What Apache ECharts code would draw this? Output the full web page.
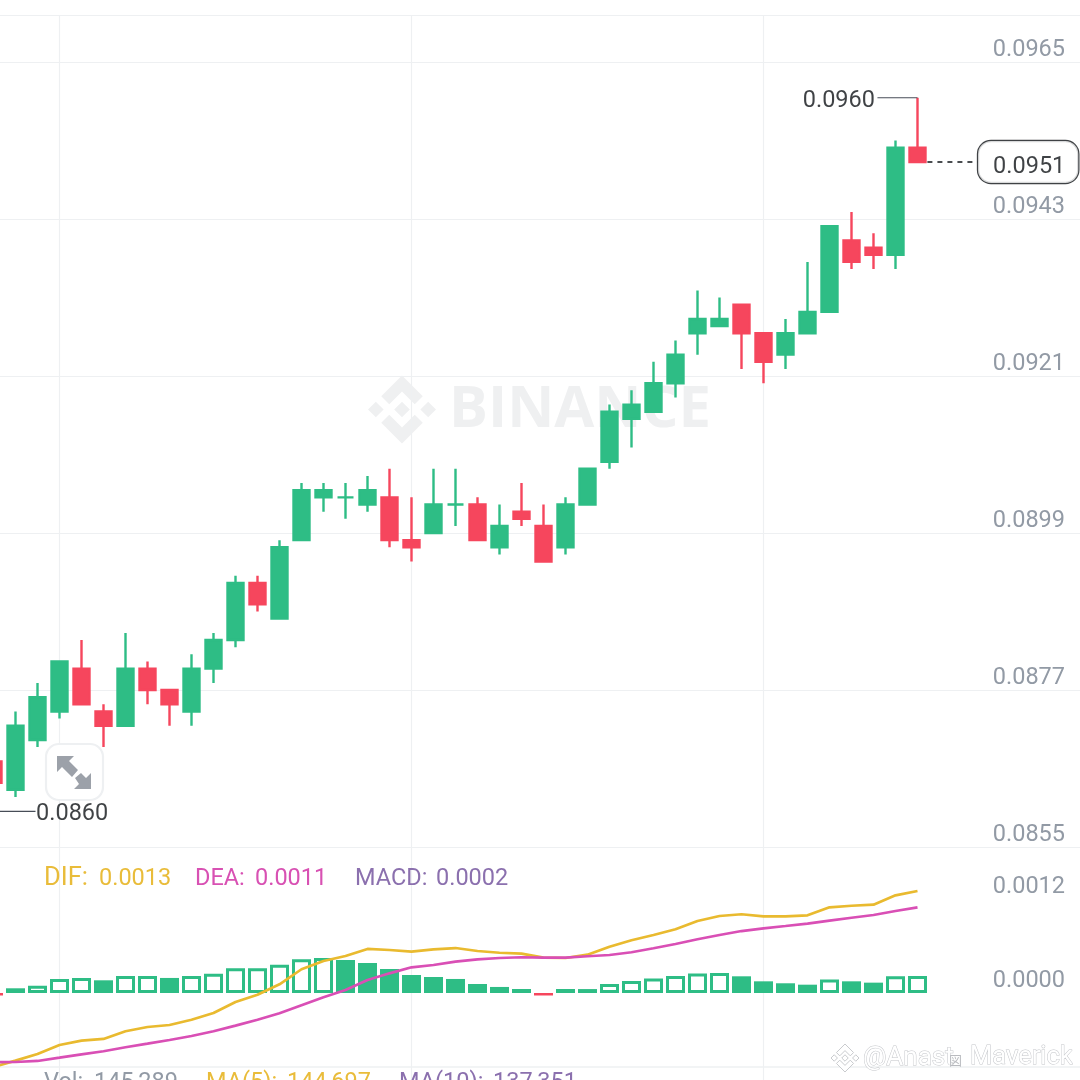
<!DOCTYPE html>
<html>
<head>
<meta charset="utf-8">
<style>html,body{margin:0;padding:0;background:#fff}#c{width:1080px;height:1080px}</style>
<script src="https://cdn.jsdelivr.net/npm/echarts@6/dist/echarts.min.js"></script>
</head>
<body>
<div id="c"></div>
<script>
const opens  = [.0867,.0863,.0870,.0874,.0880,.0874,.0872,.0880,.0877,.0874,.0880,.0884,.0892,.0887,.0898,.0904,.0904,.0903,.0904,.0898,.0899,.0903,.0903,.0897,.0902,.0900,.0897,.0903,.0909,.0915,.0916,.0920,.0927,.0928,.0931,.0927,.0924,.0927,.0930,.0940,.0939,.0938,.0953];
const closes = [.0864,.0872,.0876,.0881,.0875,.0872,.0880,.0877,.0875,.0880,.0884,.0892,.0889,.0897,.0905,.0905,.0904,.0905,.0898,.0897,.0903,.0903,.0898,.0900,.0901,.0895,.0903,.0908,.0916,.0917,.0920,.0924,.0929,.0929,.0927,.0923,.0927,.0930,.0942,.0937,.0938,.0953,.0951];
const lows   = [.0860,.0862,.0869,.0873,.0875,.0869,.0872,.0875,.0872,.0872,.0878,.0883,.0888,.0887,.0898,.0902,.0901,.0902,.0897,.0895,.0899,.0900,.0898,.0896,.0900,.0895,.0896,.0903,.0908,.0911,.0916,.0918,.0924,.0928,.0922,.0920,.0922,.0927,.0930,.0936,.0936,.0936,.0951];
const highs  = [.0868,.0874,.0878,.0881,.0884,.0875,.0885,.0881,.0877,.0882,.0885,.0893,.0893,.0898,.0906,.0906,.0906,.0907,.0908,.0904,.0908,.0908,.0904,.0903,.0906,.0903,.0904,.0908,.0917,.0919,.0923,.0926,.0933,.0932,.0931,.0927,.0929,.0937,.0942,.0944,.0941,.0954,.0960];
const macdHist = [-.000032,.00006,.000093,.000179,.000192,.000162,.000217,.000218,.000192,.000217,.000246,.000315,.000316,.000361,.00043,.000447,.000421,.000383,.000306,.00023,.000204,.000179,.000115,.000077,.000051,-.000032,.000051,.00005,.000115,.000153,.000185,.000217,.000249,.000255,.000213,.000149,.000124,.000106,.000172,.000149,.000132,.000213,.000217];
const difLine = [-.000945,-.000864,-.000779,-.000664,-.000609,-.000587,-.000489,-.000434,-.000409,-.000341,-.000255,-.000115,-.000022,.000111,.000303,.000409,.000472,.000562,.000549,.000527,.000558,.000574,.000536,.000514,.000502,.000451,.000447,.000489,.000591,.000673,.00074,.000813,.000919,.000983,.001005,.000979,.000979,.000992,.001094,.001114,.001127,.001247,.001302];
const deaLine = [-.000885,-.000881,-.000868,-.000826,-.000783,-.000744,-.000693,-.000647,-.0006,-.000549,-.000489,-.000417,-.000341,-.000259,-.000157,-.000055,.000038,.000166,.000251,.000328,.000357,.0004,.00043,.000447,.000456,.000451,.000451,.000469,.000485,.00052,.000571,.000626,.000686,.00074,.000791,.000826,.000855,.000885,.000923,.000961,.000996,.001047,.001094];
const gridCandles = [3,19,35];
const macdTicks = [0,0.0012];
const highPrice = 0.0960, lowPrice = 0.0860, lastPrice = 0.0951;
const legendMacd = [['DIF:',44,'#E9BC3A',25.5],['0.0013',99,'#E9BC3A'],['DEA:',195,'#D851B3'],['0.0011',255,'#D851B3'],['MACD:',355,'#8B70AE'],['0.0002',436,'#8B70AE']];
const legendVol = [['Vol:',44,'#929AA5'],['145,289',94,'#929AA5'],['MA(5):',206,'#E9BC3A'],['144,697',287,'#E9BC3A'],['MA(10):',399,'#8B70AE'],['137,351',493,'#8B70AE']];

const GREEN='#2EBD85', RED='#F6465D', GRID='#EEF0F2', GREY='#929AA5', INK='#0F1317';
const FONT='Roboto';
const BANDS=50;
const categories=Array.from({length:BANDS},(_,i)=>String(i));

const candleData=opens.map((o,i)=>{
  const item={value:[o,closes[i],lows[i],highs[i]]};
  if(o===closes[i]) item.itemStyle={color:GREEN,color0:GREEN,borderColor:GREEN,borderColor0:GREEN,borderColorDoji:GREEN};
  return item;
});
const histData=macdHist.map((v,i)=>{
  const prev=i?macdHist[i-1]:0;
  if(v<0) return {value:v,itemStyle:{color:RED}};
  if(prev>0&&v>prev) return {value:v,itemStyle:{color:'#fff',borderColor:GREEN,borderWidth:3}};
  return {value:v,itemStyle:{color:GREEN}};
});
const yLabel={inside:true,margin:17.5,color:GREY,fontFamily:FONT,fontSize:23.5,verticalAlign:'bottom',padding:[0,0,0,0],lineHeight:24};
const priceMax=0.09716;

function poly(points,cx,cy,r,fill,z){
  return {type:'polygon',z:z,silent:true,shape:{points:points.map(p=>[cx+p[0]*r,cy+p[1]*r])},style:{fill:fill}};
}
const LOGO=[
 [[0,-1],[.61,-.39],[.375,-.155],[0,-.53],[-.375,-.155],[-.61,-.39]],
 [[0,1],[.61,.39],[.375,.155],[0,.53],[-.375,.155],[-.61,.39]],
 [[-.23,0],[0,-.23],[.23,0],[0,.23]],
 [[-1,0],[-.77,-.23],[-.54,0],[-.77,.23]],
 [[1,0],[.77,-.23],[.54,0],[.77,.23]]
];
const graphics=[];
LOGO.forEach(p=>graphics.push(poly(p,402,409.5,34,'#EFF0F1',0)));
graphics.push({type:'text',z:0,silent:true,style:{text:'BINANCE',x:449,y:410,font:'bold 58px "Open Sans"',fill:'#EFF0F1',verticalAlign:'middle'}});
legendMacd.forEach(t=>graphics.push({type:'text',z:50,silent:true,style:{text:t[0],x:t[1],y:879,font:(t[3]||23.5)+'px '+FONT,fill:t[2],verticalAlign:'middle'}}));
legendVol.forEach(t=>graphics.push({type:'text',z:50,silent:true,style:{text:t[0],x:t[1],y:1083,font:'23.5px '+FONT,fill:t[2],verticalAlign:'middle'}}));
graphics.push({type:'line',z:1,silent:true,shape:{x1:0,y1:1067,x2:1080,y2:1067},style:{stroke:GRID,lineWidth:1.5}});
// expand button
graphics.push({type:'rect',z:60,silent:true,shape:{x:46,y:744,width:57,height:56,r:13},style:{fill:'#fff',stroke:'#EEF0F2',lineWidth:2.2}});
const ARROW='#9CA1A9';
graphics.push({type:'polygon',z:61,silent:true,shape:{points:[[57,756],[74,756],[69,761],[78,770],[72,777],[62,767],[57,772]]},style:{fill:ARROW}});
graphics.push({type:'polygon',z:61,silent:true,shape:{points:[[91,789],[74,789],[79,784],[75,778],[81,773],[86,778],[91,773]]},style:{fill:ARROW}});
// author watermark
LOGO.forEach(p=>graphics.push({type:'polygon',z:70,silent:true,shape:{points:p.map(q=>[845+q[0]*14,1058+q[1]*14])},style:{fill:'#fff',stroke:'#C9CBCE',lineWidth:1}}));
graphics.push({type:'text',z:70,silent:true,style:{text:'@Anast',x:863,y:1058,font:'26px '+FONT,fill:'#fff',stroke:'#C4C6CA',lineWidth:1,verticalAlign:'middle'}});
graphics.push({type:'text',z:70,silent:true,style:{text:'図',x:949,y:1060,font:'13px "Noto Sans CJK JP"',fill:'#B9BBBF',verticalAlign:'middle'}});
graphics.push({type:'text',z:70,silent:true,style:{text:'Maverick',x:970,y:1058,font:'25.5px '+FONT,fill:'#fff',stroke:'#C4C6CA',lineWidth:1,verticalAlign:'middle'}});

const calloutLine={color:'#474D57',width:1.2};
const lastIdx=opens.length-1;
const textStyle={color:INK,fontFamily:FONT,fontSize:23.5};
const option={
  animation:false,
  backgroundColor:'#fff',
  graphic:graphics,
  grid:[
    {left:-17.5,width:1100,top:15,height:832,outerBoundsMode:'none'},
    {left:-17.5,width:1100,top:847,height:233,outerBoundsMode:'none'}
  ],
  xAxis:[
    {type:'category',gridIndex:0,data:categories,boundaryGap:true,axisLine:{show:false},axisTick:{show:false},axisLabel:{show:false},splitLine:{show:false}},
    {type:'value',gridIndex:0,min:-0.5,max:BANDS-0.5,show:false},
    {type:'category',gridIndex:1,data:categories,boundaryGap:true,axisLine:{show:false},axisTick:{show:false},axisLabel:{show:false},splitLine:{show:false}}
  ],
  yAxis:[
    {type:'value',gridIndex:0,position:'right',min:0.0855,max:priceMax,interval:0.0022,scale:true,
     axisLine:{show:false},axisTick:{show:false},
     splitLine:{show:true,lineStyle:{color:GRID,width:1.2}},
     axisLabel:Object.assign({},yLabel,{formatter:v=>v>0.097?'':v.toFixed(4),hideOverlap:false})},
    {type:'value',gridIndex:1,position:'right',min:-0.001111,max:0.001864,
     axisLine:{show:false},axisTick:{show:false},splitLine:{show:false},
     axisLabel:Object.assign({},yLabel,{customValues:macdTicks,formatter:v=>v.toFixed(4)})}
  ],
  series:[
    {type:'line',xAxisIndex:0,yAxisIndex:0,data:[],z:1,silent:true,
     markLine:{z:1,silent:true,symbol:'none',label:{show:false},lineStyle:{color:GRID,width:1.2,type:'solid'},data:gridCandles.map(i=>({xAxis:i}))}},
    {type:'line',xAxisIndex:2,yAxisIndex:1,data:[],z:1,silent:true,
     markLine:{z:1,silent:true,symbol:'none',label:{show:false},lineStyle:{color:GRID,width:1.2,type:'solid'},data:gridCandles.map(i=>({xAxis:i}))}},
    {type:'candlestick',xAxisIndex:0,yAxisIndex:0,z:3,barWidth:16.8,data:candleData,
     itemStyle:{color:GREEN,color0:RED,borderColor:GREEN,borderColor0:RED,borderColorDoji:GREEN,borderWidth:2.4}},
    {type:'line',xAxisIndex:1,yAxisIndex:0,z:4,symbol:'none',silent:true,lineStyle:calloutLine,
     data:[[lastIdx-1.82,highPrice],[lastIdx,highPrice]]},
    {type:'line',xAxisIndex:1,yAxisIndex:0,z:4,symbol:'none',silent:true,lineStyle:calloutLine,
     data:[[0,lowPrice],[1.91,lowPrice]]},
    {type:'line',xAxisIndex:1,yAxisIndex:0,z:4,symbol:'none',silent:true,lineStyle:{color:INK,width:1.4,type:[5,5]},
     data:[[lastIdx+0.45,lastPrice],[lastIdx+2.73,lastPrice]]},
    {type:'scatter',xAxisIndex:1,yAxisIndex:0,z:5,silent:true,symbolSize:1,itemStyle:{color:'transparent'},
     data:[
       {value:[lastIdx-1.82,highPrice],label:Object.assign({show:true,position:'left',distance:2,offset:[0,3],formatter:highPrice.toFixed(4)},textStyle)},
       {value:[1.91,lowPrice],label:Object.assign({show:true,position:'right',distance:0,offset:[0,3],formatter:lowPrice.toFixed(4)},textStyle)},
       {value:[lastIdx+2.73,lastPrice],label:Object.assign({show:true,position:'right',distance:0,formatter:lastPrice.toFixed(4)},textStyle,{color:'transparent',lineHeight:24,backgroundColor:'#fff',borderColor:INK,borderWidth:1.2,borderRadius:13,padding:[9,14,9,14]})}
     ]},
    {type:'scatter',xAxisIndex:1,yAxisIndex:0,z:6,silent:true,symbolSize:1,itemStyle:{color:'transparent'},
     data:[{value:[lastIdx+2.73,lastPrice],label:Object.assign({show:true,position:'right',distance:15,offset:[0,5],formatter:lastPrice.toFixed(4)},textStyle)}]},
    {type:'bar',xAxisIndex:2,yAxisIndex:1,z:3,barWidth:19,data:histData,silent:true},
    {type:'line',xAxisIndex:2,yAxisIndex:1,z:4,symbol:'none',silent:true,lineStyle:{color:'#E9BA2F',width:2.7},data:difLine},
    {type:'line',xAxisIndex:2,yAxisIndex:1,z:5,symbol:'none',silent:true,lineStyle:{color:'#D94FB5',width:2.7},data:deaLine}
  ]
};
echarts.init(document.getElementById('c'),null,{renderer:'canvas',width:1080,height:1080}).setOption(option);
</script>
</body>
</html>
